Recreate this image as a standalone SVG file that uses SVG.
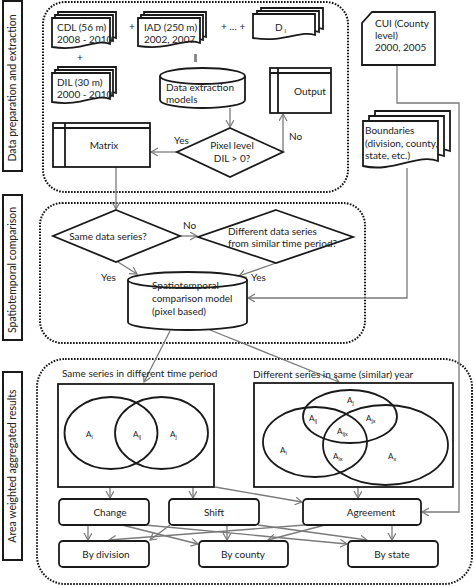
<svg xmlns="http://www.w3.org/2000/svg" width="474" height="586" viewBox="0 0 474 586">
<defs>
<style>
.n{fill:#fff;stroke:#1a1a1a;stroke-width:1.8}
.nf{fill:none;stroke:#1a1a1a;stroke-width:1.8}
.c{fill:none;stroke:#7a7a7a;stroke-width:1.3;marker-end:url(#ar)}
.d{fill:none;stroke:#111;stroke-width:2;stroke-dasharray:1.6 1.4}
.side{fill:#fff;stroke:#1a1a1a;stroke-width:2}
text{font-family:Lato,"Liberation Sans",sans-serif;font-size:10px;fill:#222}
.m{text-anchor:middle}
.lg{font-size:10.5px}
.s{font-size:8px}
.sb{font-size:5.5px}
</style>
<marker id="ar" markerUnits="userSpaceOnUse" markerWidth="10" markerHeight="10" refX="7" refY="4" orient="auto">
<path d="M0,0 L7,4 L0,8" fill="none" stroke="#7a7a7a" stroke-width="1.2"/>
</marker>
</defs>
<rect width="474" height="586" fill="#fff"/>

<!-- side labels -->
<g id="label1"><rect class="side" x="3" y="1" width="19" height="170"/><text class="m lg" transform="translate(16,88) rotate(-90)">Data preparation and extraction</text></g>
<g id="label2"><rect class="side" x="3" y="195" width="19" height="145"/><text class="m lg" transform="translate(16,270) rotate(-90)">Spatiotemporal comparison</text></g>
<g id="label3"><rect class="side" x="3" y="372" width="19" height="188"/><text class="m lg" transform="translate(16,466) rotate(-90)">Area weighted aggregated results</text></g>

<!-- dotted groups -->
<g id="groups">
<rect class="d" x="43" y="2" width="305" height="190" rx="22"/>
<rect class="d" x="40" y="203" width="325" height="140" rx="22"/>
<rect class="d" x="37" y="359" width="435" height="225" rx="28"/>
</g>

<!-- connectors -->
<g id="connectors">
<line x1="195.5" y1="54" x2="195.5" y2="62" stroke="#8a8a8a" stroke-width="3"/>
<line class="c" x1="230" y1="108" x2="230" y2="127"/>
<line class="c" x1="177" y1="152" x2="151" y2="152"/>
<line class="c" x1="283" y1="152" x2="283" y2="114"/>
<line class="c" x1="116" y1="167" x2="116" y2="209"/>
<line class="c" x1="180" y1="236" x2="197" y2="236"/>
<line class="c" x1="118" y1="262" x2="137" y2="274"/>
<line class="c" x1="276" y1="263" x2="239" y2="276"/>
<polyline class="c" points="407,168 407,298 248,298"/>
<polyline class="c" points="397,65 397,103 459,103 459,512 422,512"/>
<line class="c" x1="170" y1="331" x2="144" y2="382"/>
<line class="c" x1="210" y1="330" x2="339" y2="382"/>
<line class="c" x1="110" y1="487" x2="110" y2="498"/>
<line class="c" x1="193" y1="487" x2="193" y2="498"/>
<line class="c" x1="215" y1="487" x2="302" y2="502"/>
<line class="c" x1="358" y1="487" x2="358" y2="498"/>
<line class="c" x1="88" y1="525" x2="88" y2="540"/>
<line class="c" x1="227" y1="525" x2="227" y2="540"/>
<line class="c" x1="392" y1="525" x2="392" y2="540"/>
<line class="c" x1="122" y1="525" x2="198" y2="544"/>
<line class="c" x1="145" y1="525" x2="347" y2="544"/>
<line class="c" x1="170" y1="525" x2="150" y2="540"/>
<line class="c" x1="258" y1="525" x2="367" y2="540"/>
<line class="c" x1="305" y1="525" x2="109" y2="540"/>
<line class="c" x1="325" y1="525" x2="268" y2="540"/>
</g>

<!-- connector labels / plus signs -->
<g id="labels">
<text x="129" y="30">+</text>
<text x="77" y="61">+</text>
<text x="221" y="30">+ … +</text>
<text x="174" y="144">Yes</text>
<text x="289" y="140">No</text>
<text x="183" y="229">No</text>
<text x="101" y="281">Yes</text>
<text x="251" y="281">Yes</text>
</g>

<g id="cdl">
<path class="n" d="M58,12 H116 V38 C102,32 88,46 58,41 Z"/>
<path class="n" d="M55,15 H113 V41 C99,35 85,49 55,44 Z"/>
<path class="n" d="M52,18 H110 V44 C96,38 82,52 52,47 Z"/>
<text x="57" y="31">CDL (56 m)</text>
<text x="57" y="43">2008 - 2010</text>
</g>
<g id="iad">
<path class="n" d="M144,12 H206 V37 C191,31 176,45 144,40 Z"/>
<path class="n" d="M141,15 H203 V40 C188,34 173,48 141,43 Z"/>
<path class="n" d="M138,18 H200 V43 C185,37 170,51 138,46 Z"/>
<text x="144" y="31">IAD (250 m)</text>
<text x="144" y="43">2002, 2007</text>
</g>
<g id="di">
<path class="n" d="M261,8 H323 V29 C308,24 293,37 261,32 Z"/>
<path class="n" d="M257,11 H319 V32 C304,27 289,40 257,35 Z"/>
<path class="n" d="M253,14 H315 V35 C300,30 285,43 253,38 Z"/>
<text x="275" y="31">D<tspan class="sb" dx="2" dy="2">i</tspan></text>
</g>
<g id="dil">
<path class="n" d="M58,67 H116 V93 C102,87 88,101 58,96 Z"/>
<path class="n" d="M55,70 H113 V96 C99,90 85,104 55,99 Z"/>
<path class="n" d="M52,73 H110 V99 C96,93 82,107 52,102 Z"/>
<text x="57" y="86">DIL (30 m)</text>
<text x="57" y="98">2000 - 2010</text>
</g>
<g id="extraction">
<path class="n" d="M160,76 A42.5,8 0 0 1 245,76 V100 A42.5,8 0 0 1 160,100 Z"/>
<path class="nf" d="M160,76 A42.5,8 0 0 0 245,76"/>
<text x="166" y="91">Data extraction</text>
<text x="166" y="103">models</text>
</g>
<g id="output">
<rect class="n" x="270" y="68" width="61" height="45"/>
<line class="nf" x1="270" y1="73" x2="331" y2="73"/>
<line class="nf" x1="278" y1="68" x2="278" y2="113"/>
<text class="m" x="310" y="95">Output</text>
</g>
<g id="pixel">
<polygon class="n" points="230,128 283,152 230,177 177,152"/>
<text class="m" x="232" y="149">Pixel level</text>
<text class="m" x="232" y="162">DIL &gt; 0?</text>
</g>
<g id="matrix">
<rect class="n" x="53" y="123" width="97" height="44"/>
<line class="nf" x1="53" y1="128" x2="150" y2="128"/>
<line class="nf" x1="65" y1="123" x2="65" y2="167"/>
<text class="m" x="104" y="149">Matrix</text>
</g>
<g id="cui">
<polygon class="n" points="372,12 435,12 435,65 362,65 362,23"/>
<text x="375" y="27">CUI (County</text>
<text x="375" y="39">level)</text>
<text x="375" y="51">2000, 2005</text>
</g>
<g id="boundaries">
<path class="n" d="M375,111 H450 V151 C430,143 405,163 375,156 Z"/>
<path class="n" d="M369,116 H444 V156 C424,148 399,168 369,161 Z"/>
<path class="n" d="M363,121 H438 V161 C418,153 393,173 363,166 Z"/>
<text x="365" y="134">Boundaries</text>
<text x="365" y="147">(division, county,</text>
<text x="365" y="159">state, etc.)</text>
</g>
<g id="same">
<polygon class="n" points="116,210 180,236 116,262 53,236"/>
<text class="m" x="108" y="240">Same data series?</text>
</g>
<g id="different">
<polygon class="n" points="276,210 353,237 276,263 198,237"/>
<text x="228" y="235">Different data series</text>
<text x="228" y="247">from similar time period?</text>
</g>
<g id="stmodel">
<path class="n" d="M128,280 A59.5,8 0 0 1 247,280 V322 A59.5,8 0 0 1 128,322 Z"/>
<path class="nf" d="M128,280 A59.5,8 0 0 0 247,280"/>
<text x="152" y="289">Spatiotemporal</text>
<text x="152" y="302">comparison model</text>
<text x="152" y="315">(pixel based)</text>
</g>
<g id="venn1">
<text x="62" y="377">Same series in different time period</text>
<rect class="n" x="58" y="384" width="156" height="103"/>
<ellipse class="nf" cx="111" cy="433" rx="46.5" ry="36"/>
<ellipse class="nf" cx="161.5" cy="433" rx="46.5" ry="36"/>
<text class="s" x="86" y="437">A<tspan class="sb" dy="1.5">i</tspan></text>
<text class="s" x="133" y="437">A<tspan class="sb" dy="1.5">ij</tspan></text>
<text class="s" x="170" y="437">A<tspan class="sb" dy="1.5">j</tspan></text>
</g>
<g id="venn2">
<text x="253" y="378">Different series in same (similar) year</text>
<rect class="n" x="254" y="383" width="199" height="104"/>
<ellipse class="nf" cx="350" cy="416.5" rx="47" ry="26.5"/>
<ellipse class="nf" cx="315" cy="442" rx="52" ry="35"/>
<ellipse class="nf" cx="385.5" cy="445" rx="62.5" ry="40"/>
<text class="s" x="347" y="403">A<tspan class="sb" dy="1.5">j</tspan></text>
<text class="s" x="309" y="421">A<tspan class="sb" dy="1.5">ij</tspan></text>
<text class="s" x="366" y="421">A<tspan class="sb" dy="1.5">jx</tspan></text>
<text class="s" x="337" y="434">A<tspan class="sb" dy="1.5">ijx</tspan></text>
<text class="s" x="280" y="453">A<tspan class="sb" dy="1.5">i</tspan></text>
<text class="s" x="333" y="459">A<tspan class="sb" dy="1.5">ix</tspan></text>
<text class="s" x="388" y="459">A<tspan class="sb" dy="1.5">x</tspan></text>
</g>
<g id="change"><rect class="n" x="59" y="499" width="90" height="26" rx="4"/><text class="m" x="110" y="516">Change</text></g>
<g id="shift"><rect class="n" x="169" y="499" width="90" height="26" rx="4"/><text class="m" x="214" y="516">Shift</text></g>
<g id="agreement"><rect class="n" x="303" y="499" width="118" height="26" rx="4"/><text class="m" x="371" y="516">Agreement</text></g>
<g id="bydivision"><rect class="n" x="59" y="541" width="90" height="26" rx="4"/><text class="m" x="106" y="558">By division</text></g>
<g id="bycounty"><rect class="n" x="199" y="541" width="89" height="26" rx="4"/><text class="m" x="243" y="558">By county</text></g>
<g id="bystate"><rect class="n" x="348" y="541" width="90" height="26" rx="4"/><text class="m" x="392" y="558">By state</text></g>
</svg>
